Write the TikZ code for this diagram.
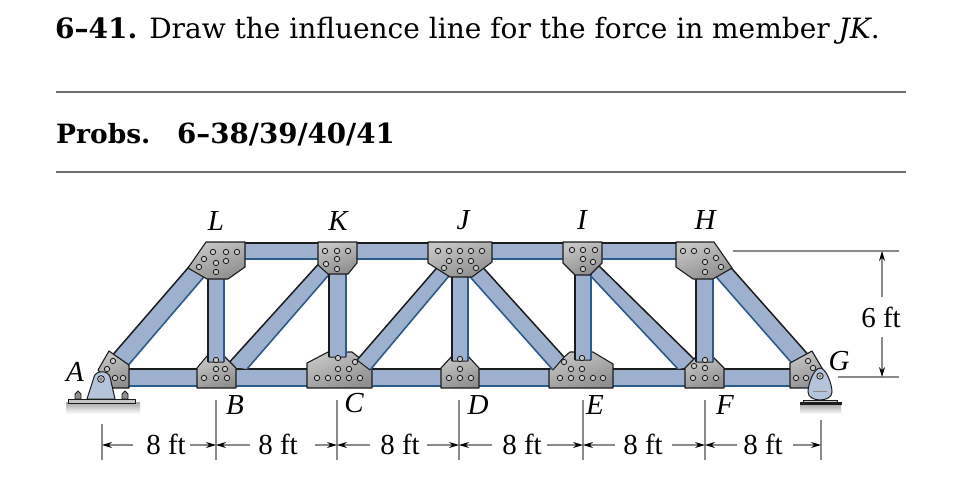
\documentclass[tikz,border=0pt]{standalone}
\usepackage{fontspec}
\setmainfont{Liberation Serif}
\newfontfamily\titlefont{DejaVu Serif}
\usetikzlibrary{arrows.meta,calc}
\definecolor{steel}{HTML}{9DB1CE}
\definecolor{steellt}{HTML}{B4C4DA}
\definecolor{edgeblue}{HTML}{2C5C8C}
\definecolor{inkc}{HTML}{1C1C1C}
\definecolor{dimc}{HTML}{8A8A8A}
\definecolor{rulec}{HTML}{6E6E6E}
\definecolor{platelt}{HTML}{C6C6C6}
\definecolor{platedk}{HTML}{8E8E8E}
\tikzset{
  x=1pt,y=-1pt,
  plate/.style={draw=inkc,line width=1.1pt,line join=round,top color=platelt,bottom color=platedk,shading angle=20},
  hole/.style={draw=inkc,line width=0.8pt,fill=platelt},
  lbl/.style={font=\fontsize{29}{29}\selectfont\itshape,inner sep=0pt},
  dimtxt/.style={font=\fontsize{29}{29}\selectfont,inner sep=0pt},
  tick/.style={draw=dimc,line width=1.1pt},
  dimln/.style={draw=dimc,line width=1.1pt,-{Stealth[length=10pt,width=6pt,color=black]}},
  rulel/.style={draw=rulec,line width=1.6pt},
  support/.style={draw=inkc,line width=1pt,fill=steellt,line join=round},
}
% member: four corners, edge 1-2 dark, edge 4-3 blue
\newcommand{\member}[4]{%
  \fill[steel] (#1) -- (#2) -- (#3) -- (#4) -- cycle;
  \draw[inkc,line width=1.5pt] (#1) -- (#2);
  \draw[edgeblue,line width=1.6pt] (#4) -- (#3);
}
\newcommand{\bolts}[1]{\foreach \bx/\by in {#1}{\draw[hole] (\bx,\by) circle (2.7);\fill[white!60!gray] (\bx,\by) circle (1.1);}}
\newcommand{\dimseg}[2]{%
  \coordinate (p) at (#1,445); \coordinate (q) at (#2,445);
  \draw[dimln] (p) -- (q);}
\begin{document}
\begin{tikzpicture}
\useasboundingbox (0,0) rectangle (974,488);
\fill[white] (0,0) rectangle (974,488);
% header
\node[anchor=base west,inner sep=0pt,font=\titlefont\fontsize{28}{28}\selectfont] (title) at (55,38) {\textbf{6–41.} Draw the influence line for the force in member \textit{JK}.};
\coordinate (r1a) at (56,92); \coordinate (r1b) at (906,92);
\draw[rulel] (r1a) -- (r1b);
\node[anchor=base west,inner sep=0pt,font=\titlefont\bfseries\fontsize{26.5}{27}\selectfont] (probs) at (56,143) {Probs.};
\node[anchor=base west,inner sep=0pt,font=\titlefont\bfseries\fontsize{27.7}{27}\selectfont] (nums) at (177,143) {6–38/39/40/41};
\coordinate (r2a) at (56,172); \coordinate (r2b) at (906,172);
\draw[rulel] (r2a) -- (r2b);
% shadows
\shade[top color=gray!70,bottom color=white] (66,402) rectangle (140,414);
\shade[top color=gray!70,bottom color=white] (800,404) rectangle (841,414);
% chords
\member{230,243}{690,243}{690,259}{230,259}
\member{125,369}{800,369}{800,386}{125,386}
% diagonals under plates
\member{110,358}{194,261}{209,271}{125,369}
\member{226,366}{323,259}{333,270}{247,369}
\member{592,259}{700,365}{678,369}{586,271}
\member{726,262}{812,359}{797,369}{711,271}
% lower plates
\draw[plate] (109,351) -- (129,365) -- (129,388) -- (113,388) -- (98,370) -- cycle;
\draw[plate] (197,388) -- (197,368) -- (207,356) -- (224,356) -- (236,368) -- (236,388) -- cycle;
\draw[plate] (307,388) -- (307,363) -- (328,352) -- (352,352) -- (372,368) -- (372,388) -- cycle;
\draw[plate] (441,388) -- (441,368) -- (453,355) -- (467,355) -- (479,368) -- (479,388) -- cycle;
\draw[plate] (549,388) -- (549,370) -- (570,352) -- (593,352) -- (613,364) -- (613,388) -- cycle;
\draw[plate] (685,388) -- (685,368) -- (697,356) -- (712,356) -- (724,368) -- (724,388) -- cycle;
\draw[plate] (790,388) -- (790,363) -- (812,351) -- (826,375) -- (820,388) -- cycle;
% verticals and diagonals over the lower plates
\member{208,268}{208,362}{224,362}{224,268}
\member{329,268}{329,357}{346,357}{346,268}
\member{452,268}{452,361}{468,361}{468,268}
\member{575,268}{575,360}{591,360}{591,268}
\member{696,268}{696,362}{713,362}{713,268}
\member{357,360}{441,263}{454,270}{370,370}
\member{478,262}{564,357}{553,370}{464,270}
\draw[inkc,line width=1pt] (208,362) -- (224,362) (329,357) -- (346,357) (452,361) -- (468,361) (575,360) -- (591,360) (696,362) -- (713,362) (357,360) -- (370,370) (564,357) -- (553,370);
% upper plates
\draw[plate] (206,242) -- (245,242) -- (245,267) -- (228,279) -- (207,279) -- (188,268) -- cycle;
\draw[plate] (318,242) -- (357,242) -- (357,263) -- (348,274) -- (328,274) -- (318,265) -- cycle;
\draw[plate] (428,242) -- (492,242) -- (492,262) -- (472,277) -- (450,277) -- (428,263) -- cycle;
\draw[plate] (563,242) -- (602,242) -- (602,263) -- (590,275) -- (575,275) -- (563,263) -- cycle;
\draw[plate] (676,242) -- (714,242) -- (732,268) -- (713,279) -- (693,279) -- (676,267) -- cycle;
% bolts
\bolts{213/252,226/252,237/252,204/259,216/263,226/261,199/267,216/272}
\bolts{113/361,107/369,115/378,123/378}
\bolts{216/360,216/369,225/369,204/378,216/378,227/378}
\bolts{325/251,337/251,348/251,337/259,326/264,337/269}
\bolts{338/358,338/369,349/369,317/378,328/378,338/378,349/378,360/378,355/362}
\bolts{438/251,449/251,460/251,471/251,482/251,449/261,460/261,471/261,444/268,460/271,476/268}
\bolts{460/359,460/369,449/378,460/378,471/378}
\bolts{564/362,582/358,571/369,582/369,560/378,571/378,582/378,593/378,603/378}
\bolts{572/250,583/250,595/250,583/259,593/262,583/269}
\bolts{683/251,694/251,707/251,716/258,705/262,721/267,705/272}
\bolts{705/360,694/366,705/368,693/378,705/378,716/378}
\bolts{808/361,813/368,796/378,806/378}
% left support
\draw[support] (87,399) -- (94,377) .. controls (96,370) and (108,370) .. (110,377) -- (115,399) -- cycle;
\draw[hole] (101,379) circle (3.4); \fill[gray] (101,379) circle (1.8);
\draw[inkc,line width=0.8pt,fill=platedk] (75,399) -- (75,394) -- (78,391) -- (81,394) -- (81,399) -- cycle;
\draw[inkc,line width=0.8pt,fill=platedk] (122,399) -- (122,394) -- (125,391) -- (128,394) -- (128,399) -- cycle;
\draw[inkc,line width=1pt,fill=platelt] (68,399) rectangle (135,403);
% right support
\draw[support] (820,368) .. controls (826,368) and (832,384) .. (832,392) .. controls (832,397) and (826,400) .. (820,400) .. controls (814,400) and (808,397) .. (808,392) .. controls (808,384) and (814,368) .. (820,368) -- cycle;
\draw[dimc,line width=1pt] (813,391) -- (827,391);
\draw[hole] (820,376) circle (3.2); \fill[gray] (820,376) circle (1.7);
\draw[inkc,line width=1pt,fill=platelt] (803,400) rectangle (837,402);
\draw[inkc,line width=1pt,fill=inkc] (800,402) rectangle (841,404);
% point labels
\node[lbl] (nL) at (216,221) {L};
\node[lbl] (nK) at (338,221) {K};
\node[lbl] (nJ) at (463,220) {J};
\node[lbl] (nI) at (582,220) {I};
\node[lbl] (nH) at (705,220) {H};
\node[lbl] (nA) at (75,372) {A};
\node[lbl] (nG) at (839,361) {G};
\node[lbl] (nB) at (235,405) {B};
\node[lbl] (nC) at (354,403) {C};
\node[lbl] (nD) at (478,405) {D};
\node[lbl] (nE) at (595,405) {E};
\node[lbl] (nF) at (725,405) {F};
% ticks
\foreach \nm/\tx/\ty in {a/102/424,b/216/400,c/337/400,d/459/400,e/583/400,f/705/400,g/821/420}{
  \coordinate (t\nm u) at (\tx,\ty); \coordinate (t\nm d) at (\tx,460);
  \draw[tick] (t\nm u) -- (t\nm d);}
% dimensions
\node[dimtxt] (d1) at (166,444) {8 ft};
\node[dimtxt] (d2) at (278,444) {8 ft};
\node[dimtxt] (d3) at (400,444) {8 ft};
\node[dimtxt] (d4) at (522,444) {8 ft};
\node[dimtxt] (d5) at (643,444) {8 ft};
\node[dimtxt] (d6) at (763,444) {8 ft};
\dimseg{133}{102}
\dimseg{190}{216}
\dimseg{250}{216}
\dimseg{315}{337}
\dimseg{370}{337}
\dimseg{427}{459}
\dimseg{492}{459}
\dimseg{547}{583}
\dimseg{615}{583}
\dimseg{672}{705}
\dimseg{737}{705}
\dimseg{793}{821}
% height dimension
\coordinate (h1a) at (733,251); \coordinate (h1b) at (899,251);
\coordinate (h2a) at (838,377); \coordinate (h2b) at (899,377);
\draw[tick] (h1a) -- (h1b);
\draw[tick] (h2a) -- (h2b);
\node[dimtxt] (six) at (881,317) {6 ft};
\coordinate (v1) at (882,297); \coordinate (v1e) at (882,251);
\coordinate (v2) at (882,337); \coordinate (v2e) at (882,377);
\draw[dimln] (v1) -- (v1e);
\draw[dimln] (v2) -- (v2e);
\end{tikzpicture}
\end{document}
